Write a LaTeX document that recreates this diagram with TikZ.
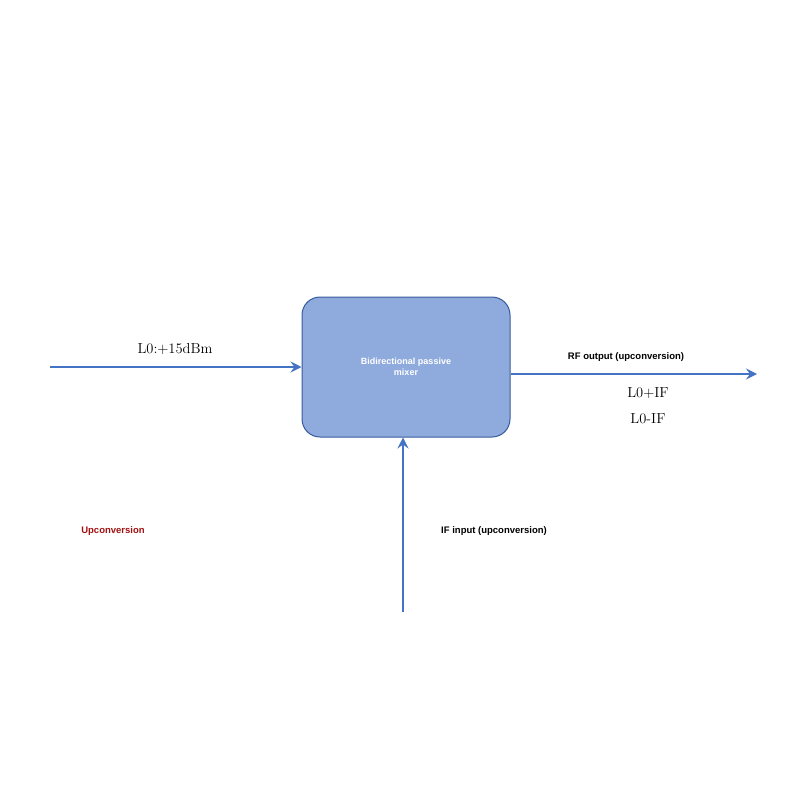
\documentclass[tikz,border=0pt]{standalone}
\usepackage{fontspec}
\setsansfont{Liberation Sans}
\usetikzlibrary{arrows.meta}
\definecolor{arrowblue}{HTML}{4472C4}
\definecolor{boxfill}{HTML}{8FAADC}
\definecolor{darkred}{HTML}{A01010}
\begin{document}
\begin{tikzpicture}[x=1pt,y=-1pt,
  conn/.style={arrowblue,line width=2.6pt,-{Stealth[length=11pt,width=11pt,inset=4pt]}},
  lbl/.style={font=\sffamily\bfseries\fontsize{9.5}{11}\selectfont},
  serif/.style={font=\rmfamily\fontsize{14.5}{16}\selectfont}]
\useasboundingbox (0,0) rectangle (800,800);
\node[draw=arrowblue!80!black,fill=boxfill,rounded corners=18pt,minimum width=208pt,minimum height=140pt,line width=1pt,
  text=white,align=center,font=\sffamily\bfseries\fontsize{9}{11}\selectfont] (mix) at (406,367) {Bidirectional passive\\mixer};
\coordinate (lo) at (50,367);
\coordinate (rf) at (757,374);
\coordinate (if) at (403,612);
\draw[conn] (lo) -- (mix.west);
\draw[conn] (mix.east |- rf) -- (rf);
\draw[conn] (if) -- (if |- mix.south);
\node[serif] (lol) at (175,349) {L0:+15dBm};
\node[lbl] (rfl) at (626,357) {RF output (upconversion)};
\node[serif] (s1) at (648,393) {L0+IF};
\node[serif] (s2) at (648,419) {L0-IF};
\node[lbl] (ifl) at (494,531) {IF input (upconversion)};
\node[lbl,text=darkred] (up) at (113,531) {Upconversion};
\end{tikzpicture}
\end{document}
